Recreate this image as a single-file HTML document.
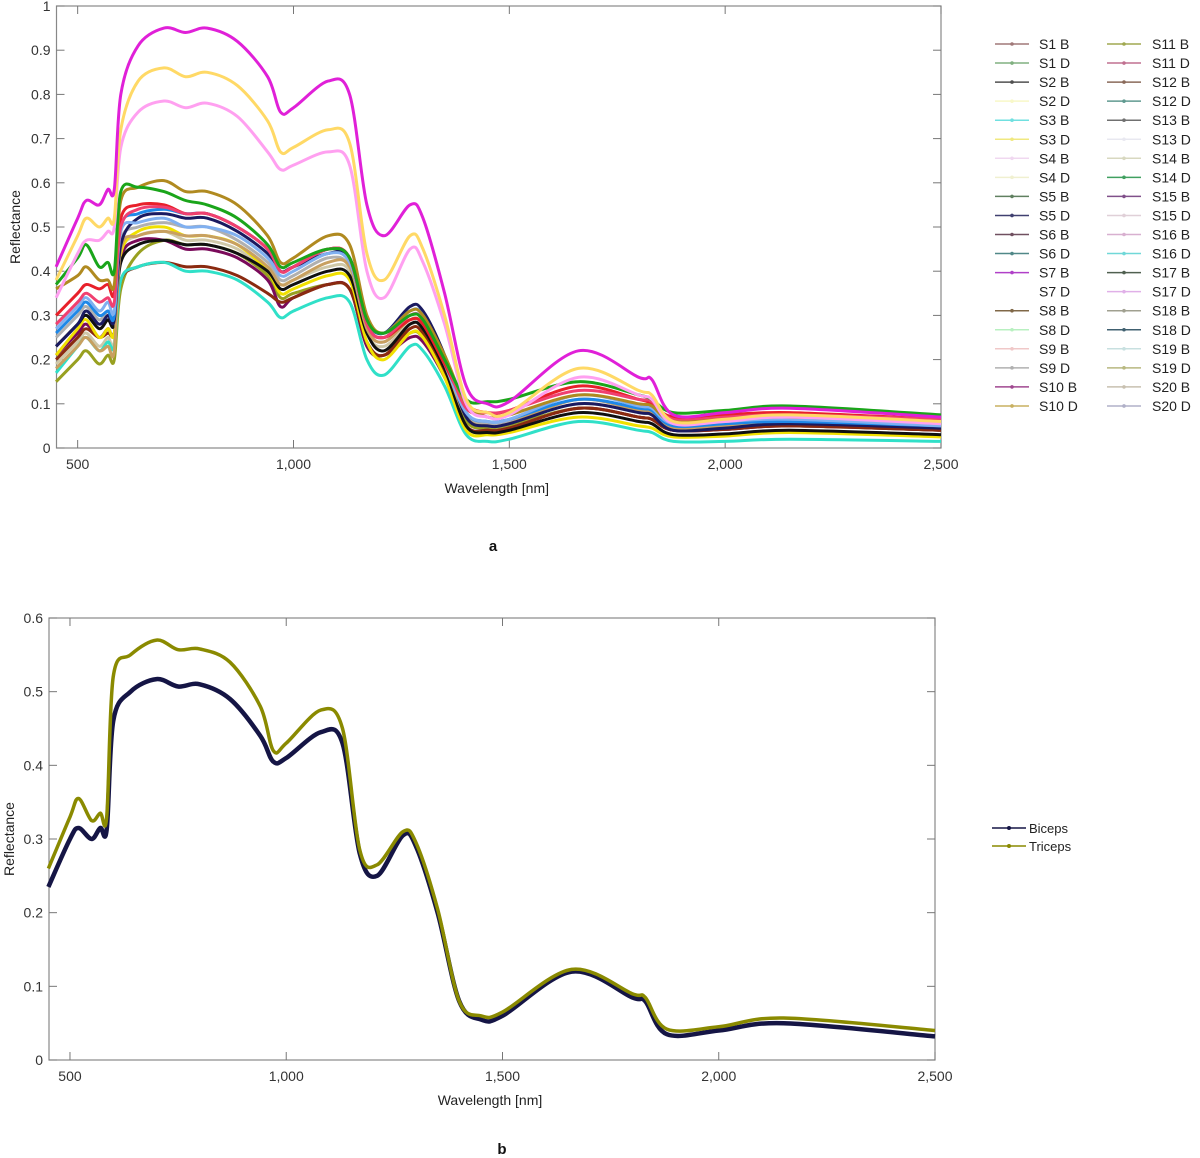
<!DOCTYPE html>
<html><head><meta charset="utf-8"><style>
html,body{margin:0;padding:0;background:#fff;}
svg{display:block;font-family:"Liberation Sans",Arial,sans-serif;}
</style></head><body>
<svg id="svg" width="1200" height="1158" viewBox="0 0 1200 1158">
<g id="chartA"></g>
<g id="chartB"></g>
</svg>
<script>
const NS='http://www.w3.org/2000/svg';
const wavelengths=[450,500,520,550,570,585,600,640,700,750,800,870,940,970,1000,1080,1130,1170,1210,1270,1300,1350,1400,1450,1500,1660,1800,1830,1880,2000,2150,2500];
const xTicks=[500,1000,1500,2000,2500];
const xTickLabels=['500','1,000','1,500','2,000','2,500'];
const yTicksA=[0,0.1,0.2,0.3,0.4,0.5,0.6,0.7,0.8,0.9,1];
const yTickLabelsA=['0','0.1','0.2','0.3','0.4','0.5','0.6','0.7','0.8','0.9','1'];
const yTicksB=[0,0.1,0.2,0.3,0.4,0.5,0.6];
const yTickLabelsB=['0','0.1','0.2','0.3','0.4','0.5','0.6'];
const seriesColorsA=['#b0b0b0','#cfc8a8','#98a020','#7a0a5a','#8a2a10','#30e0c8','#f0e000','#101010','#c8a060','#1a1a60','#1e88e8','#80b0f0','#e8202a','#f04070','#b08a20','#1aa51a','#ffa0f0','#ffd966','#e020d8'];
const seriesValuesA=[
[0.25,0.30,0.32,0.29,0.31,0.30,0.47,0.50,0.51,0.50,0.50,0.47,0.42,0.38,0.39,0.43,0.41,0.27,0.24,0.29,0.28,0.19,0.075,0.055,0.06,0.11,0.085,0.08,0.05,0.052,0.06,0.048],
[0.19,0.24,0.26,0.23,0.25,0.24,0.44,0.48,0.49,0.47,0.47,0.45,0.40,0.37,0.38,0.41,0.40,0.26,0.23,0.28,0.27,0.18,0.065,0.05,0.055,0.10,0.08,0.075,0.045,0.048,0.055,0.045],
[0.15,0.20,0.22,0.19,0.21,0.20,0.36,0.44,0.47,0.46,0.46,0.44,0.39,0.34,0.35,0.37,0.36,0.23,0.21,0.26,0.25,0.17,0.06,0.045,0.05,0.09,0.07,0.065,0.04,0.045,0.05,0.04],
[0.21,0.26,0.28,0.25,0.27,0.26,0.43,0.47,0.47,0.45,0.45,0.43,0.38,0.32,0.34,0.37,0.36,0.23,0.21,0.25,0.24,0.16,0.05,0.04,0.045,0.09,0.07,0.065,0.04,0.042,0.05,0.04],
[0.20,0.25,0.27,0.25,0.26,0.26,0.38,0.41,0.42,0.41,0.41,0.39,0.35,0.33,0.34,0.37,0.36,0.24,0.21,0.27,0.26,0.17,0.05,0.04,0.045,0.09,0.07,0.065,0.04,0.042,0.05,0.04],
[0.17,0.23,0.25,0.22,0.24,0.23,0.38,0.41,0.42,0.40,0.40,0.38,0.33,0.295,0.31,0.34,0.33,0.20,0.165,0.23,0.22,0.14,0.03,0.015,0.02,0.06,0.04,0.035,0.015,0.015,0.02,0.015],
[0.21,0.27,0.29,0.25,0.27,0.26,0.44,0.49,0.50,0.48,0.48,0.46,0.40,0.35,0.36,0.39,0.38,0.24,0.20,0.26,0.25,0.16,0.04,0.03,0.035,0.07,0.05,0.045,0.025,0.027,0.035,0.025],
[0.23,0.28,0.30,0.27,0.29,0.28,0.42,0.46,0.47,0.46,0.46,0.44,0.40,0.36,0.37,0.40,0.39,0.26,0.22,0.28,0.27,0.18,0.05,0.035,0.04,0.08,0.06,0.055,0.03,0.032,0.04,0.03],
[0.18,0.23,0.25,0.22,0.23,0.22,0.45,0.48,0.49,0.48,0.48,0.46,0.41,0.37,0.38,0.42,0.41,0.27,0.24,0.29,0.28,0.19,0.07,0.05,0.055,0.11,0.085,0.08,0.045,0.05,0.06,0.05],
[0.23,0.28,0.31,0.28,0.30,0.29,0.46,0.52,0.53,0.52,0.52,0.49,0.44,0.40,0.41,0.44,0.43,0.29,0.26,0.32,0.31,0.21,0.07,0.05,0.055,0.10,0.08,0.075,0.04,0.045,0.055,0.045],
[0.26,0.31,0.33,0.30,0.31,0.30,0.50,0.53,0.54,0.53,0.53,0.50,0.45,0.40,0.41,0.45,0.43,0.29,0.26,0.31,0.30,0.20,0.08,0.06,0.065,0.11,0.09,0.085,0.05,0.055,0.06,0.05],
[0.27,0.32,0.34,0.31,0.33,0.31,0.49,0.51,0.52,0.50,0.50,0.48,0.43,0.39,0.40,0.44,0.42,0.28,0.25,0.30,0.29,0.19,0.08,0.06,0.065,0.12,0.095,0.09,0.055,0.06,0.065,0.05],
[0.30,0.35,0.37,0.36,0.37,0.35,0.52,0.55,0.55,0.53,0.53,0.50,0.45,0.40,0.41,0.45,0.43,0.28,0.25,0.29,0.28,0.19,0.10,0.08,0.085,0.14,0.11,0.10,0.07,0.075,0.08,0.065],
[0.28,0.33,0.35,0.33,0.34,0.33,0.50,0.54,0.545,0.53,0.53,0.50,0.45,0.40,0.41,0.45,0.43,0.28,0.25,0.30,0.29,0.20,0.09,0.08,0.085,0.13,0.11,0.105,0.065,0.07,0.075,0.065],
[0.36,0.39,0.41,0.38,0.38,0.37,0.56,0.59,0.605,0.58,0.58,0.55,0.48,0.42,0.43,0.48,0.46,0.30,0.26,0.31,0.30,0.21,0.10,0.07,0.075,0.12,0.10,0.095,0.06,0.065,0.07,0.06],
[0.37,0.43,0.46,0.41,0.42,0.40,0.58,0.59,0.58,0.56,0.55,0.52,0.46,0.41,0.42,0.45,0.43,0.29,0.26,0.30,0.29,0.20,0.11,0.105,0.11,0.15,0.12,0.11,0.08,0.085,0.095,0.075],
[0.34,0.44,0.47,0.47,0.49,0.50,0.68,0.76,0.785,0.77,0.78,0.75,0.67,0.63,0.64,0.67,0.64,0.40,0.34,0.45,0.42,0.28,0.10,0.07,0.075,0.16,0.12,0.11,0.055,0.06,0.07,0.055],
[0.38,0.48,0.52,0.50,0.52,0.52,0.72,0.83,0.86,0.84,0.85,0.82,0.74,0.67,0.68,0.72,0.69,0.44,0.38,0.48,0.45,0.30,0.11,0.08,0.08,0.18,0.13,0.12,0.06,0.065,0.075,0.06],
[0.41,0.52,0.56,0.55,0.585,0.585,0.80,0.91,0.95,0.94,0.95,0.92,0.84,0.76,0.77,0.83,0.80,0.55,0.48,0.55,0.52,0.35,0.14,0.10,0.105,0.22,0.16,0.155,0.075,0.08,0.09,0.07]
];
const legendLabelsA=['S1 B','S1 D','S2 B','S2 D','S3 B','S3 D','S4 B','S4 D','S5 B','S5 D','S6 B','S6 D','S7 B','S7 D','S8 B','S8 D','S9 B','S9 D','S10 B','S10 D','S11 B','S11 D','S12 B','S12 D','S13 B','S13 D','S14 B','S14 D','S15 B','S15 D','S16 B','S16 D','S17 B','S17 D','S18 B','S18 D','S19 B','S19 D','S20 B','S20 D'];
const legendColorsA=['#a07878','#80b080','#505050','#f8f8c8','#70e0e0','#f0e880','#f0d8f0','#f0f0d0','#608060','#404070','#705060','#508888','#b040c8','none','#806848','#b8f0c0','#f0c8c8','#b0b0b0','#a04890','#c8b060','#a0a850','#c07090','#8a6a5a','#609a90','#707070','#e8e8f0','#d8d8c0','#40a060','#80508a','#e0d0d8','#d8b0d0','#70d8d8','#506050','#e0b0e8','#a0a090','#406070','#c8e0e0','#b8b880','#c8c0b0','#b0b0c8'];
const labelsB=['Biceps','Triceps'];
const colorsB=['#151545','#8a8a00'];
const bicepsValues=[0.235,0.30,0.315,0.30,0.315,0.313,0.46,0.50,0.517,0.507,0.51,0.49,0.44,0.405,0.41,0.445,0.43,0.28,0.25,0.305,0.29,0.20,0.08,0.055,0.06,0.12,0.085,0.08,0.035,0.04,0.05,0.032];
const tricepsValues=[0.26,0.33,0.355,0.325,0.335,0.33,0.52,0.55,0.57,0.557,0.558,0.54,0.48,0.42,0.43,0.475,0.45,0.285,0.265,0.31,0.295,0.205,0.08,0.06,0.065,0.123,0.09,0.085,0.042,0.045,0.057,0.04];

function mk(tag,attrs,parent,text){const e=document.createElementNS(NS,tag);for(const k in attrs)e.setAttribute(k,attrs[k]);if(text!==undefined)e.textContent=text;parent.appendChild(e);return e;}
function smoothPath(pts){let d='M'+pts[0][0].toFixed(1)+','+pts[0][1].toFixed(1);for(let i=0;i<pts.length-1;i++){const p0=pts[Math.max(0,i-1)],p1=pts[i],p2=pts[i+1],p3=pts[Math.min(pts.length-1,i+2)];const c1x=p1[0]+(p2[0]-p0[0])/6,c1y=p1[1]+(p2[1]-p0[1])/6,c2x=p2[0]-(p3[0]-p1[0])/6,c2y=p2[1]-(p3[1]-p1[1])/6;d+=' C'+c1x.toFixed(1)+','+c1y.toFixed(1)+' '+c2x.toFixed(1)+','+c2y.toFixed(1)+' '+p2[0].toFixed(1)+','+p2[1].toFixed(1);}return d;}

function axes(g,L,T,R,B,xmin,xmax,ymax,yT,yL,ylabelX,xlabelY){
  const X=v=>L+(v-xmin)/(xmax-xmin)*(R-L);
  const Y=v=>B-v/ymax*(B-T);
  const frame=mk('rect',{x:L,y:T,width:R-L,height:B-T,fill:'none',stroke:'#888','stroke-width':1.2},g);
  
  xTicks.forEach((t,i)=>{const x=X(t);
    mk('line',{x1:x,y1:B,x2:x,y2:B-8,stroke:'#777'},g);mk('line',{x1:x,y1:T,x2:x,y2:T+8,stroke:'#777'},g);
    const tx=mk('text',{x:x,y:B+21,'text-anchor':'middle','font-size':14,fill:'#333'},g,xTickLabels[i]);
    });
  yT.forEach((t,i)=>{const y=Y(t);
    mk('line',{x1:L,y1:y,x2:L+8,y2:y,stroke:'#777'},g);mk('line',{x1:R,y1:y,x2:R-8,y2:y,stroke:'#777'},g);
    const tx=mk('text',{x:L-6,y:y+5,'text-anchor':'end','font-size':14,fill:'#333'},g,yL[i]);
    });
  const xl=mk('text',{x:(L+R)/2-2,y:xlabelY,'text-anchor':'middle','font-size':14,fill:'#222'},g,'Wavelength [nm]');
  
  const yl=mk('text',{x:ylabelX,y:(T+B)/2,'text-anchor':'middle','font-size':14,fill:'#222',transform:'rotate(-90 '+ylabelX+' '+(T+B)/2+')'},g,'Reflectance');
  
  return [X,Y];
}

// Chart A
const gA=document.getElementById('chartA');
const [XA,YA]=axes(gA,56.5,6,941,448,451,2500,1,yTicksA,yTickLabelsA,20,493);
seriesValuesA.forEach((vals,i)=>{
  const p=mk('path',{d:smoothPath(vals.map((v,j)=>[XA(wavelengths[j]),YA(v)])),fill:'none',stroke:seriesColorsA[i],'stroke-width':3,'stroke-linejoin':'round'},gA);
  
  
});
legendLabelsA.forEach((lab,i)=>{
  const col=Math.floor(i/20),row=i%20;
  const lx=col?1107:995, tx=col?1152:1039, y=44+row*19.05;
  const g=mk('g',{},gA);
  
  
  if(legendColorsA[i]!=='none'){mk('line',{x1:lx,y1:y,x2:lx+34,y2:y,stroke:legendColorsA[i],'stroke-width':1.5},g);mk('circle',{cx:lx+17,cy:y,r:1.8,fill:legendColorsA[i]},g);}
  mk('text',{x:tx,y:y+5,'font-size':14,fill:'#222'},g,lab);
});
const la=mk('text',{x:493,y:551,'text-anchor':'middle','font-size':15,'font-weight':'bold',fill:'#111'},gA,'a');


// Chart B
const gB=document.getElementById('chartB');
const [XB,YB]=axes(gB,49,618,935,1060,451.5,2500,0.6,yTicksB,yTickLabelsB,14,1105);
[bicepsValues,tricepsValues].forEach((vals,i)=>{
  const p=mk('path',{d:smoothPath(vals.map((v,j)=>[XB(wavelengths[j]),YB(v)])),fill:'none',stroke:colorsB[i],'stroke-width':i?3.5:4.5,'stroke-linejoin':'round'},gB);
  
  
});
labelsB.forEach((lab,i)=>{
  const y=828+i*18;
  const g=mk('g',{},gB);
  
  
  mk('line',{x1:992,y1:y,x2:1026,y2:y,stroke:colorsB[i],'stroke-width':1.5},g);
  mk('circle',{cx:1009,cy:y,r:2,fill:colorsB[i]},g);
  mk('text',{x:1029,y:y+5,'font-size':13,fill:'#222'},g,lab);
});
const lb=mk('text',{x:502,y:1154,'text-anchor':'middle','font-size':15,'font-weight':'bold',fill:'#111'},gB,'b');

</script>
</body></html>
